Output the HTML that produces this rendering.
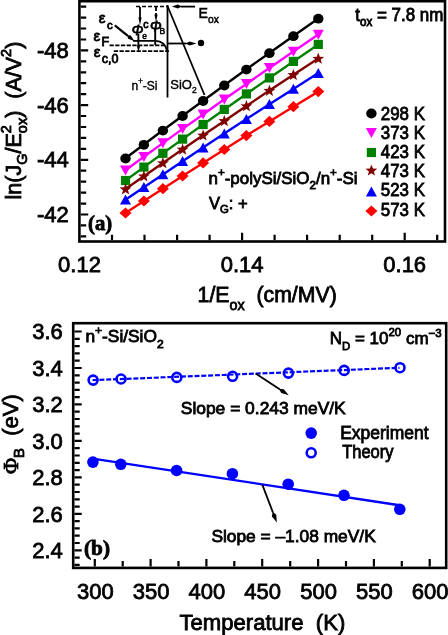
<!DOCTYPE html>
<html><head><meta charset="utf-8"><title>Figure</title>
<style>html,body{margin:0;padding:0;background:#fff;width:448px;height:635px;overflow:hidden}svg{display:block}text{stroke:#000;stroke-width:0.8px}</style>
</head><body>
<svg width="448" height="635" viewBox="0 0 448 635">
<rect x="79.4" y="1.2" width="365.6" height="240.3" fill="none" stroke="#000" stroke-width="2.6"/>
<path d="M80.7 6.6H86.2 M80.7 17.6H86.2 M80.7 28.5H86.2 M80.7 39.5H86.2 M80.7 50.4H88.2 M80.7 61.3H86.2 M80.7 72.3H86.2 M80.7 83.2H86.2 M80.7 94.2H86.2 M80.7 105.1H88.2 M80.7 116.0H86.2 M80.7 127.0H86.2 M80.7 137.9H86.2 M80.7 148.9H86.2 M80.7 159.8H88.2 M80.7 170.7H86.2 M80.7 181.7H86.2 M80.7 192.6H86.2 M80.7 203.6H86.2 M80.7 214.5H88.2 M80.7 225.4H86.2 M80.7 236.4H86.2" stroke="#000" stroke-width="2.2" fill="none"/>
<path d="M112.0 240.2V234.7 M144.5 240.2V234.7 M177.1 240.2V234.7 M209.6 240.2V234.7 M242.1 240.2V232.7 M274.6 240.2V234.7 M307.1 240.2V234.7 M339.7 240.2V234.7 M372.2 240.2V234.7 M404.7 240.2V232.7 M437.2 240.2V234.7" stroke="#000" stroke-width="2.2" fill="none"/>
<text x="68.8" y="57.9" font-family="Liberation Sans, Arial, Helvetica, sans-serif" font-size="22" text-anchor="end">-48</text>
<text x="68.8" y="112.6" font-family="Liberation Sans, Arial, Helvetica, sans-serif" font-size="22" text-anchor="end">-46</text>
<text x="68.8" y="167.3" font-family="Liberation Sans, Arial, Helvetica, sans-serif" font-size="22" text-anchor="end">-44</text>
<text x="68.8" y="222.0" font-family="Liberation Sans, Arial, Helvetica, sans-serif" font-size="22" text-anchor="end">-42</text>
<text x="79.5" y="272" font-family="Liberation Sans, Arial, Helvetica, sans-serif" font-size="22" text-anchor="middle">0.12</text>
<text x="242.1" y="272" font-family="Liberation Sans, Arial, Helvetica, sans-serif" font-size="22" text-anchor="middle">0.14</text>
<text x="404.7" y="272" font-family="Liberation Sans, Arial, Helvetica, sans-serif" font-size="22" text-anchor="middle">0.16</text>
<text x="197.60" y="302.4" font-family="Liberation Sans, Arial, Helvetica, sans-serif" font-size="21.5" textLength="139.15" lengthAdjust="spacingAndGlyphs">1/E<tspan font-size="14.5" dy="7.5">ox</tspan><tspan dy="-7.5" xml:space="preserve">  (cm/MV)</tspan></text>
<text transform="translate(21,199.50) rotate(-90)" font-family="Liberation Sans, Arial, Helvetica, sans-serif" font-size="21.5">ln(J<tspan font-size="14.5" dy="6">G</tspan><tspan dy="-6">/E</tspan><tspan font-size="14.5" dy="-10.5">2</tspan><tspan font-size="14.5" dx="-8" dy="16.5">ox</tspan><tspan dy="-6" xml:space="preserve">)  (A/V</tspan><tspan font-size="14.5" dy="-10.5">2</tspan><tspan dy="10.5">)</tspan></text>
<polyline points="125.5,158.2 143.9,144.5 162.9,130.3 182.6,115.7 203.1,100.7 224.3,85.2 246.4,69.3 269.4,52.9 293.4,35.9 318.3,18.4" fill="none" stroke="#000000" stroke-width="2.4"/>
<ellipse cx="125.5" cy="158.5" rx="5.20" ry="4.90" fill="#000000"/>
<ellipse cx="143.9" cy="144.8" rx="5.20" ry="4.90" fill="#000000"/>
<ellipse cx="162.9" cy="130.6" rx="5.20" ry="4.90" fill="#000000"/>
<ellipse cx="182.6" cy="116.0" rx="5.20" ry="4.90" fill="#000000"/>
<ellipse cx="203.1" cy="101.0" rx="5.20" ry="4.90" fill="#000000"/>
<ellipse cx="224.3" cy="85.5" rx="5.20" ry="4.90" fill="#000000"/>
<ellipse cx="246.4" cy="69.6" rx="5.20" ry="4.90" fill="#000000"/>
<ellipse cx="269.4" cy="53.2" rx="5.20" ry="4.90" fill="#000000"/>
<ellipse cx="293.4" cy="36.2" rx="5.20" ry="4.90" fill="#000000"/>
<ellipse cx="318.3" cy="18.7" rx="5.20" ry="4.90" fill="#000000"/>
<polyline points="125.5,170.2 143.9,156.8 162.9,143.1 182.6,128.9 203.1,114.4 224.3,99.3 246.4,83.9 269.4,67.9 293.4,51.5 318.3,34.5" fill="none" stroke="#ff00ff" stroke-width="2.4"/>
<path d="M120.0 165.4H131.0L125.5 175.4Z" fill="#ff00ff"/>
<path d="M138.4 152.0H149.4L143.9 162.0Z" fill="#ff00ff"/>
<path d="M157.4 138.3H168.4L162.9 148.3Z" fill="#ff00ff"/>
<path d="M177.1 124.1H188.1L182.6 134.1Z" fill="#ff00ff"/>
<path d="M197.6 109.6H208.6L203.1 119.6Z" fill="#ff00ff"/>
<path d="M218.8 94.5H229.8L224.3 104.5Z" fill="#ff00ff"/>
<path d="M240.9 79.1H251.9L246.4 89.1Z" fill="#ff00ff"/>
<path d="M263.9 63.1H274.9L269.4 73.1Z" fill="#ff00ff"/>
<path d="M287.9 46.7H298.9L293.4 56.7Z" fill="#ff00ff"/>
<path d="M312.8 29.7H323.8L318.3 39.7Z" fill="#ff00ff"/>
<polyline points="125.5,180.5 143.9,167.1 162.9,153.3 182.6,139.1 203.1,124.5 224.3,109.4 246.4,93.9 269.4,77.9 293.4,61.4 318.3,44.4" fill="none" stroke="#008000" stroke-width="2.4"/>
<rect x="120.9" y="175.9" width="9.2" height="9.2" fill="#008000"/>
<rect x="139.3" y="162.5" width="9.2" height="9.2" fill="#008000"/>
<rect x="158.3" y="148.7" width="9.2" height="9.2" fill="#008000"/>
<rect x="178.0" y="134.5" width="9.2" height="9.2" fill="#008000"/>
<rect x="198.5" y="119.9" width="9.2" height="9.2" fill="#008000"/>
<rect x="219.7" y="104.8" width="9.2" height="9.2" fill="#008000"/>
<rect x="241.8" y="89.3" width="9.2" height="9.2" fill="#008000"/>
<rect x="264.8" y="73.3" width="9.2" height="9.2" fill="#008000"/>
<rect x="288.8" y="56.8" width="9.2" height="9.2" fill="#008000"/>
<rect x="313.7" y="39.8" width="9.2" height="9.2" fill="#008000"/>
<polyline points="125.5,189.1 143.9,176.2 162.9,163.0 182.6,149.3 203.1,135.3 224.3,120.9 246.4,106.0 269.4,90.6 293.4,74.8 318.3,58.5" fill="none" stroke="#800000" stroke-width="2.4"/>
<path d="M125.5 183.2L127.0 187.3L131.4 187.5L128.0 190.2L129.2 194.4L125.5 192.0L121.9 194.4L123.0 190.2L119.6 187.5L124.0 187.3Z" fill="#800000"/>
<path d="M143.9 170.3L145.4 174.4L149.8 174.6L146.3 177.3L147.5 181.5L143.9 179.1L140.2 181.5L141.4 177.3L138.0 174.6L142.3 174.4Z" fill="#800000"/>
<path d="M162.9 157.1L164.4 161.2L168.8 161.4L165.3 164.1L166.5 168.3L162.9 165.9L159.2 168.3L160.4 164.1L157.0 161.4L161.3 161.2Z" fill="#800000"/>
<path d="M182.6 143.4L184.1 147.5L188.5 147.7L185.1 150.5L186.2 154.7L182.6 152.2L178.9 154.7L180.1 150.5L176.7 147.7L181.1 147.5Z" fill="#800000"/>
<path d="M203.1 129.4L204.6 133.5L209.0 133.7L205.5 136.4L206.7 140.6L203.1 138.2L199.4 140.6L200.6 136.4L197.2 133.7L201.5 133.5Z" fill="#800000"/>
<path d="M224.3 115.0L225.9 119.1L230.2 119.2L226.8 122.0L228.0 126.2L224.3 123.8L220.7 126.2L221.9 122.0L218.4 119.2L222.8 119.1Z" fill="#800000"/>
<path d="M246.4 100.1L248.0 104.2L252.3 104.4L248.9 107.1L250.1 111.3L246.4 108.9L242.8 111.3L244.0 107.1L240.5 104.4L244.9 104.2Z" fill="#800000"/>
<path d="M269.4 84.7L271.0 88.8L275.3 89.0L271.9 91.7L273.1 95.9L269.4 93.5L265.8 95.9L267.0 91.7L263.5 89.0L267.9 88.8Z" fill="#800000"/>
<path d="M293.4 68.9L294.9 73.0L299.3 73.2L295.8 75.9L297.0 80.1L293.4 77.7L289.7 80.1L290.9 75.9L287.5 73.2L291.8 73.0Z" fill="#800000"/>
<path d="M318.3 52.6L319.8 56.7L324.2 56.9L320.8 59.6L321.9 63.8L318.3 61.4L314.7 63.8L315.8 59.6L312.4 56.9L316.8 56.7Z" fill="#800000"/>
<polyline points="125.5,199.8 143.9,187.3 162.9,174.4 182.6,161.2 203.1,147.6 224.3,133.6 246.4,119.1 269.4,104.2 293.4,88.9 318.3,73.1" fill="none" stroke="#0000ff" stroke-width="2.4"/>
<path d="M120.0 204.6H131.0L125.5 194.6Z" fill="#0000ff"/>
<path d="M138.4 192.1H149.4L143.9 182.1Z" fill="#0000ff"/>
<path d="M157.4 179.2H168.4L162.9 169.2Z" fill="#0000ff"/>
<path d="M177.1 166.0H188.1L182.6 156.0Z" fill="#0000ff"/>
<path d="M197.6 152.4H208.6L203.1 142.4Z" fill="#0000ff"/>
<path d="M218.8 138.4H229.8L224.3 128.4Z" fill="#0000ff"/>
<path d="M240.9 123.9H251.9L246.4 113.9Z" fill="#0000ff"/>
<path d="M263.9 109.0H274.9L269.4 99.0Z" fill="#0000ff"/>
<path d="M287.9 93.7H298.9L293.4 83.7Z" fill="#0000ff"/>
<path d="M312.8 77.9H323.8L318.3 67.9Z" fill="#0000ff"/>
<polyline points="125.5,213.0 143.9,201.0 162.9,188.7 182.6,176.0 203.1,162.9 224.3,149.5 246.4,135.6 269.4,121.4 293.4,106.7 318.3,91.6" fill="none" stroke="#ff0000" stroke-width="2.4"/>
<path d="M119.5 213.0L125.5 207.4L131.5 213.0L125.5 218.6Z" fill="#ff0000"/>
<path d="M137.9 201.0L143.9 195.4L149.9 201.0L143.9 206.6Z" fill="#ff0000"/>
<path d="M156.9 188.7L162.9 183.1L168.9 188.7L162.9 194.3Z" fill="#ff0000"/>
<path d="M176.6 176.0L182.6 170.4L188.6 176.0L182.6 181.6Z" fill="#ff0000"/>
<path d="M197.1 162.9L203.1 157.3L209.1 162.9L203.1 168.5Z" fill="#ff0000"/>
<path d="M218.3 149.5L224.3 143.9L230.3 149.5L224.3 155.1Z" fill="#ff0000"/>
<path d="M240.4 135.6L246.4 130.0L252.4 135.6L246.4 141.2Z" fill="#ff0000"/>
<path d="M263.4 121.4L269.4 115.8L275.4 121.4L269.4 127.0Z" fill="#ff0000"/>
<path d="M287.4 106.7L293.4 101.1L299.4 106.7L293.4 112.3Z" fill="#ff0000"/>
<path d="M312.3 91.6L318.3 86.0L324.3 91.6L318.3 97.2Z" fill="#ff0000"/>
<ellipse cx="371.4" cy="113.5" rx="5.20" ry="4.90" fill="#000000"/>
<text x="380.80" y="119.6" font-family="Liberation Sans, Arial, Helvetica, sans-serif" font-size="17.5" textLength="44.12" lengthAdjust="spacingAndGlyphs">298 K</text>
<path d="M365.9 128.1H376.9L371.4 138.1Z" fill="#ff00ff"/>
<text x="380.80" y="138.8" font-family="Liberation Sans, Arial, Helvetica, sans-serif" font-size="17.5" textLength="44.12" lengthAdjust="spacingAndGlyphs">373 K</text>
<rect x="366.8" y="147.9" width="9.2" height="9.2" fill="#008000"/>
<text x="380.80" y="158.0" font-family="Liberation Sans, Arial, Helvetica, sans-serif" font-size="17.5" textLength="44.12" lengthAdjust="spacingAndGlyphs">423 K</text>
<path d="M371.4 164.4L372.9 168.5L377.3 168.7L373.9 171.4L375.0 175.6L371.4 173.2L367.8 175.6L368.9 171.4L365.5 168.7L369.9 168.5Z" fill="#800000"/>
<text x="380.80" y="177.2" font-family="Liberation Sans, Arial, Helvetica, sans-serif" font-size="17.5" textLength="44.12" lengthAdjust="spacingAndGlyphs">473 K</text>
<path d="M365.9 196.4H376.9L371.4 186.4Z" fill="#0000ff"/>
<text x="380.80" y="196.4" font-family="Liberation Sans, Arial, Helvetica, sans-serif" font-size="17.5" textLength="44.12" lengthAdjust="spacingAndGlyphs">523 K</text>
<path d="M365.4 211.0L371.4 205.4L377.4 211.0L371.4 216.6Z" fill="#ff0000"/>
<text x="380.80" y="215.6" font-family="Liberation Sans, Arial, Helvetica, sans-serif" font-size="17.5" textLength="44.12" lengthAdjust="spacingAndGlyphs">573 K</text>
<text x="355.20" y="21.3" font-family="Liberation Sans, Arial, Helvetica, sans-serif" font-size="17.5" textLength="88.19" lengthAdjust="spacingAndGlyphs">t<tspan font-size="12" dy="5.1">ox</tspan><tspan dy="-5.1" xml:space="preserve"> = 7.8 nm</tspan></text>
<text x="208.50" y="183.6" font-family="Liberation Sans, Arial, Helvetica, sans-serif" font-size="16.8" textLength="149.06" lengthAdjust="spacingAndGlyphs">n<tspan font-size="11.5" dy="-8">+</tspan><tspan dy="8">-polySi/SiO</tspan><tspan font-size="11.5" dy="5">2</tspan><tspan dy="-5">/n</tspan><tspan font-size="11.5" dy="-8">+</tspan><tspan dy="8">-Si</tspan></text>
<text x="209.00" y="208.5" font-family="Liberation Sans, Arial, Helvetica, sans-serif" font-size="16.8" textLength="38.68" lengthAdjust="spacingAndGlyphs">V<tspan font-size="11.5" dy="4.6">G</tspan><tspan dy="-4.6">: +</tspan></text>
<text x="88.10" y="230.2" font-family="Liberation Serif, Times New Roman, serif" font-weight="bold" font-size="20.5" textLength="24.12" lengthAdjust="spacingAndGlyphs">(a)</text>
<path d="M114.80 25.40L127.57 35.59" stroke="#000" stroke-width="2.2" fill="none"/>
<path d="M134.60 41.20L128.21 38.79L126.78 34.96L130.83 35.50Z" fill="#000"/>
<path d="M195.00 6.60L180.80 6.60" stroke="#000" stroke-width="1.8" fill="none"/>
<path d="M171.80 6.60L177.80 4.60L181.80 6.60L177.80 8.60Z" fill="#000"/>
<path d="M167.20 43.50L186.30 43.50" stroke="#000" stroke-width="1.8" fill="none"/>
<path d="M196.30 43.50L189.80 45.60L185.30 43.50L189.80 41.40Z" fill="#000"/>
<g stroke="#000" fill="none" stroke-width="1.6">
<path d="M136 6.5H167.5" stroke-dasharray="4 2"/>
<path d="M109.5 45.4H165" stroke-dasharray="4.3 1.4"/>
<path d="M113.8 51.1H169" stroke-dasharray="4.3 1.4"/>
<path d="M167.5 5V97.5" stroke-width="1.8"/>
<path d="M167.5 6L204.5 95" stroke-width="1.8"/>
<path d="M133 40.9H155.5Q165 41.2 167.3 51.2" stroke-width="1.8"/>
<path d="M155.2 29V45" stroke-width="1.9"/>
<path d="M138.4 34V47" stroke-width="1.9"/>
<path d="M140 7V19" stroke-width="1.8"/>
<path d="M156 7V11M156 13V15" stroke-width="1.8"/>
</g>
<g fill="#000">
<path d="M140 25.2L138.4 17.5H141.6Z"/>
<path d="M156 22L154.4 14.5H157.6Z"/>
<path d="M138.5 52L136.7 45.5H140.3Z"/>
<circle cx="201" cy="43" r="3.2"/>
</g>
<text x="98.8" y="22.6" font-family="Liberation Sans, Arial, Helvetica, sans-serif" font-size="15">ε<tspan font-size="11.5" dx="1.6" dy="6.1">c</tspan></text>
<text x="93.6" y="40.6" font-family="Liberation Sans, Arial, Helvetica, sans-serif" font-size="15">ε<tspan font-size="12.5" dx="1.2" dy="5.8">F</tspan></text>
<text x="93.8" y="56.8" font-family="Liberation Sans, Arial, Helvetica, sans-serif" font-size="15">ε<tspan font-size="12.5" dx="1.2" dy="5.9">c,0</tspan></text>
<text x="131.8" y="34.6" font-family="Liberation Sans, Arial, Helvetica, sans-serif" font-style="italic" font-size="13.8">Φ</text>
<text x="143.3" y="27.6" font-family="Liberation Sans, Arial, Helvetica, sans-serif" font-size="10.5">c</text>
<text x="142.3" y="39.2" font-family="Liberation Sans, Arial, Helvetica, sans-serif" style="stroke-width:0.5px" font-size="8.3">e</text>
<text x="150" y="31" font-family="Liberation Sans, Arial, Helvetica, sans-serif" font-style="italic" font-size="13.8">Φ</text>
<text x="159.6" y="34.4" font-family="Liberation Sans, Arial, Helvetica, sans-serif" style="stroke-width:0.5px" font-size="8.5">B</text>
<text x="131.5" y="89.6" font-family="Liberation Sans, Arial, Helvetica, sans-serif" style="stroke-width:0.4px" font-size="13" textLength="26" lengthAdjust="spacingAndGlyphs">n<tspan font-size="8.5" dy="-6">+</tspan><tspan dy="6">-Si</tspan></text>
<text x="170.3" y="89.4" font-family="Liberation Sans, Arial, Helvetica, sans-serif" style="stroke-width:0.4px" font-size="13">SiO<tspan font-size="8.5" dy="4">2</tspan></text>
<text x="198.6" y="18" font-family="Liberation Sans, Arial, Helvetica, sans-serif" style="stroke-width:0.5px" font-size="14.5" textLength="20.3" lengthAdjust="spacingAndGlyphs">E<tspan font-size="10.5" dy="4.8">ox</tspan></text>
<rect x="73.2" y="323.2" width="373.0" height="244.7" fill="none" stroke="#000" stroke-width="2.6"/>
<path d="M74.5 564.9H79.7 M74.5 557.6H79.7 M74.5 550.3H81.7 M74.5 543.0H79.7 M74.5 535.7H79.7 M74.5 528.4H79.7 M74.5 521.1H79.7 M74.5 513.9H81.7 M74.5 506.6H79.7 M74.5 499.3H79.7 M74.5 492.0H79.7 M74.5 484.7H79.7 M74.5 477.4H81.7 M74.5 470.1H79.7 M74.5 462.8H79.7 M74.5 455.5H79.7 M74.5 448.2H79.7 M74.5 440.9H81.7 M74.5 433.6H79.7 M74.5 426.3H79.7 M74.5 419.0H79.7 M74.5 411.7H79.7 M74.5 404.4H81.7 M74.5 397.1H79.7 M74.5 389.9H79.7 M74.5 382.6H79.7 M74.5 375.3H79.7 M74.5 368.0H81.7 M74.5 360.7H79.7 M74.5 353.4H79.7 M74.5 346.1H79.7 M74.5 338.8H79.7 M74.5 331.5H81.7" stroke="#000" stroke-width="2.2" fill="none"/>
<path d="M94.8 566.6V559.1 M122.7 566.6V561.1 M150.6 566.6V559.1 M178.5 566.6V561.1 M206.4 566.6V559.1 M234.3 566.6V561.1 M262.2 566.6V559.1 M290.2 566.6V561.1 M318.1 566.6V559.1 M346.0 566.6V561.1 M373.9 566.6V559.1 M401.8 566.6V561.1 M429.7 566.6V559.1" stroke="#000" stroke-width="2.2" fill="none"/>
<text x="62.8" y="339.4" font-family="Liberation Sans, Arial, Helvetica, sans-serif" font-size="22" text-anchor="end">3.6</text>
<text x="62.8" y="375.9" font-family="Liberation Sans, Arial, Helvetica, sans-serif" font-size="22" text-anchor="end">3.4</text>
<text x="62.8" y="412.3" font-family="Liberation Sans, Arial, Helvetica, sans-serif" font-size="22" text-anchor="end">3.2</text>
<text x="62.8" y="448.8" font-family="Liberation Sans, Arial, Helvetica, sans-serif" font-size="22" text-anchor="end">3.0</text>
<text x="62.8" y="485.3" font-family="Liberation Sans, Arial, Helvetica, sans-serif" font-size="22" text-anchor="end">2.8</text>
<text x="62.8" y="521.8" font-family="Liberation Sans, Arial, Helvetica, sans-serif" font-size="22" text-anchor="end">2.6</text>
<text x="62.8" y="558.2" font-family="Liberation Sans, Arial, Helvetica, sans-serif" font-size="22" text-anchor="end">2.4</text>
<text x="95.3" y="599" font-family="Liberation Sans, Arial, Helvetica, sans-serif" font-size="22" text-anchor="middle">300</text>
<text x="151.1" y="599" font-family="Liberation Sans, Arial, Helvetica, sans-serif" font-size="22" text-anchor="middle">350</text>
<text x="206.9" y="599" font-family="Liberation Sans, Arial, Helvetica, sans-serif" font-size="22" text-anchor="middle">400</text>
<text x="262.7" y="599" font-family="Liberation Sans, Arial, Helvetica, sans-serif" font-size="22" text-anchor="middle">450</text>
<text x="318.6" y="599" font-family="Liberation Sans, Arial, Helvetica, sans-serif" font-size="22" text-anchor="middle">500</text>
<text x="374.4" y="599" font-family="Liberation Sans, Arial, Helvetica, sans-serif" font-size="22" text-anchor="middle">550</text>
<text x="430.2" y="599" font-family="Liberation Sans, Arial, Helvetica, sans-serif" font-size="22" text-anchor="middle">600</text>
<text x="179.50" y="630" font-family="Liberation Sans, Arial, Helvetica, sans-serif" font-size="21.5" xml:space="preserve" textLength="165.75" lengthAdjust="spacingAndGlyphs">Temperature  (K)</text>
<text transform="translate(17.6,474.10) rotate(-90)" font-family="Liberation Sans, Arial, Helvetica, sans-serif" font-size="22" textLength="79.91" lengthAdjust="spacingAndGlyphs"><tspan font-family="Liberation Serif, Times New Roman, serif">Φ</tspan><tspan font-size="15" dy="6.5">B</tspan><tspan dy="-6.5" xml:space="preserve">  (eV)</tspan></text>
<path d="M92.6 380.2L399.5 367.8" stroke="#0000ff" stroke-width="2.2" stroke-dasharray="5 1.8" fill="none"/>
<path d="M92.6 458.6L399.5 505.2" stroke="#0000ff" stroke-width="2.4" fill="none"/>
<circle cx="93.1" cy="380.1" r="4.5" fill="none" stroke="#0000ff" stroke-width="2.6"/>
<circle cx="121.0" cy="379.0" r="4.5" fill="none" stroke="#0000ff" stroke-width="2.6"/>
<circle cx="176.8" cy="377.4" r="4.5" fill="none" stroke="#0000ff" stroke-width="2.6"/>
<circle cx="232.6" cy="376.3" r="4.5" fill="none" stroke="#0000ff" stroke-width="2.6"/>
<circle cx="288.4" cy="373.1" r="4.5" fill="none" stroke="#0000ff" stroke-width="2.6"/>
<circle cx="344.2" cy="370.4" r="4.5" fill="none" stroke="#0000ff" stroke-width="2.6"/>
<circle cx="400.0" cy="367.7" r="4.5" fill="none" stroke="#0000ff" stroke-width="2.6"/>
<circle cx="92.9" cy="462.1" r="5.8" fill="#0000ff"/>
<circle cx="120.8" cy="464.3" r="5.8" fill="#0000ff"/>
<circle cx="176.6" cy="470.5" r="5.8" fill="#0000ff"/>
<circle cx="232.4" cy="473.7" r="5.8" fill="#0000ff"/>
<circle cx="288.2" cy="484.2" r="5.8" fill="#0000ff"/>
<circle cx="344.0" cy="495.3" r="5.8" fill="#0000ff"/>
<circle cx="399.8" cy="509.3" r="5.8" fill="#0000ff"/>
<circle cx="311.2" cy="433.1" r="5.8" fill="#0000ff"/>
<circle cx="311.2" cy="452.8" r="4.5" fill="none" stroke="#0000ff" stroke-width="2.6"/>
<text x="340.20" y="438.8" font-family="Liberation Sans, Arial, Helvetica, sans-serif" font-size="17.5" textLength="88.32" lengthAdjust="spacingAndGlyphs">Experiment</text>
<text x="342.20" y="458.3" font-family="Liberation Sans, Arial, Helvetica, sans-serif" font-size="17.5" textLength="51.31" lengthAdjust="spacingAndGlyphs">Theory</text>
<text x="180.80" y="414.3" font-family="Liberation Sans, Arial, Helvetica, sans-serif" font-size="16.8" textLength="164.90" lengthAdjust="spacingAndGlyphs">Slope = 0.243 meV/K</text>
<text x="211.40" y="542.3" font-family="Liberation Sans, Arial, Helvetica, sans-serif" font-size="16.8" textLength="164.30" lengthAdjust="spacingAndGlyphs">Slope = –1.08 meV/K</text>
<path d="M255.70 373.40L279.63 389.23" stroke="#000" stroke-width="1.8" fill="none"/>
<path d="M288.80 395.30L281.28 393.08L278.79 388.68L283.81 389.24Z" fill="#000"/>
<path d="M262.30 484.60L272.88 512.32" stroke="#000" stroke-width="1.8" fill="none"/>
<path d="M276.80 522.60L271.98 516.41L272.52 511.39L276.28 514.77Z" fill="#000"/>
<text x="85.40" y="342.3" font-family="Liberation Sans, Arial, Helvetica, sans-serif" font-size="16.5" textLength="78.26" lengthAdjust="spacingAndGlyphs">n<tspan font-size="11.5" dy="-8.5">+</tspan><tspan dy="8.5">-Si/SiO</tspan><tspan font-size="11.5" dy="5.5">2</tspan></text>
<text x="329.70" y="344.3" font-family="Liberation Sans, Arial, Helvetica, sans-serif" font-size="17" textLength="112.01" lengthAdjust="spacingAndGlyphs">N<tspan font-size="11.5" dy="6">D</tspan><tspan dy="-6"> = 10</tspan><tspan font-size="11.5" dy="-8.3">20</tspan><tspan dy="8.3"> cm</tspan><tspan font-size="11.5" dy="-7.8">−3</tspan></text>
<text x="84.00" y="555.4" font-family="Liberation Serif, Times New Roman, serif" font-weight="bold" font-size="20.5" textLength="26.01" lengthAdjust="spacingAndGlyphs">(b)</text>
</svg>
</body></html>
